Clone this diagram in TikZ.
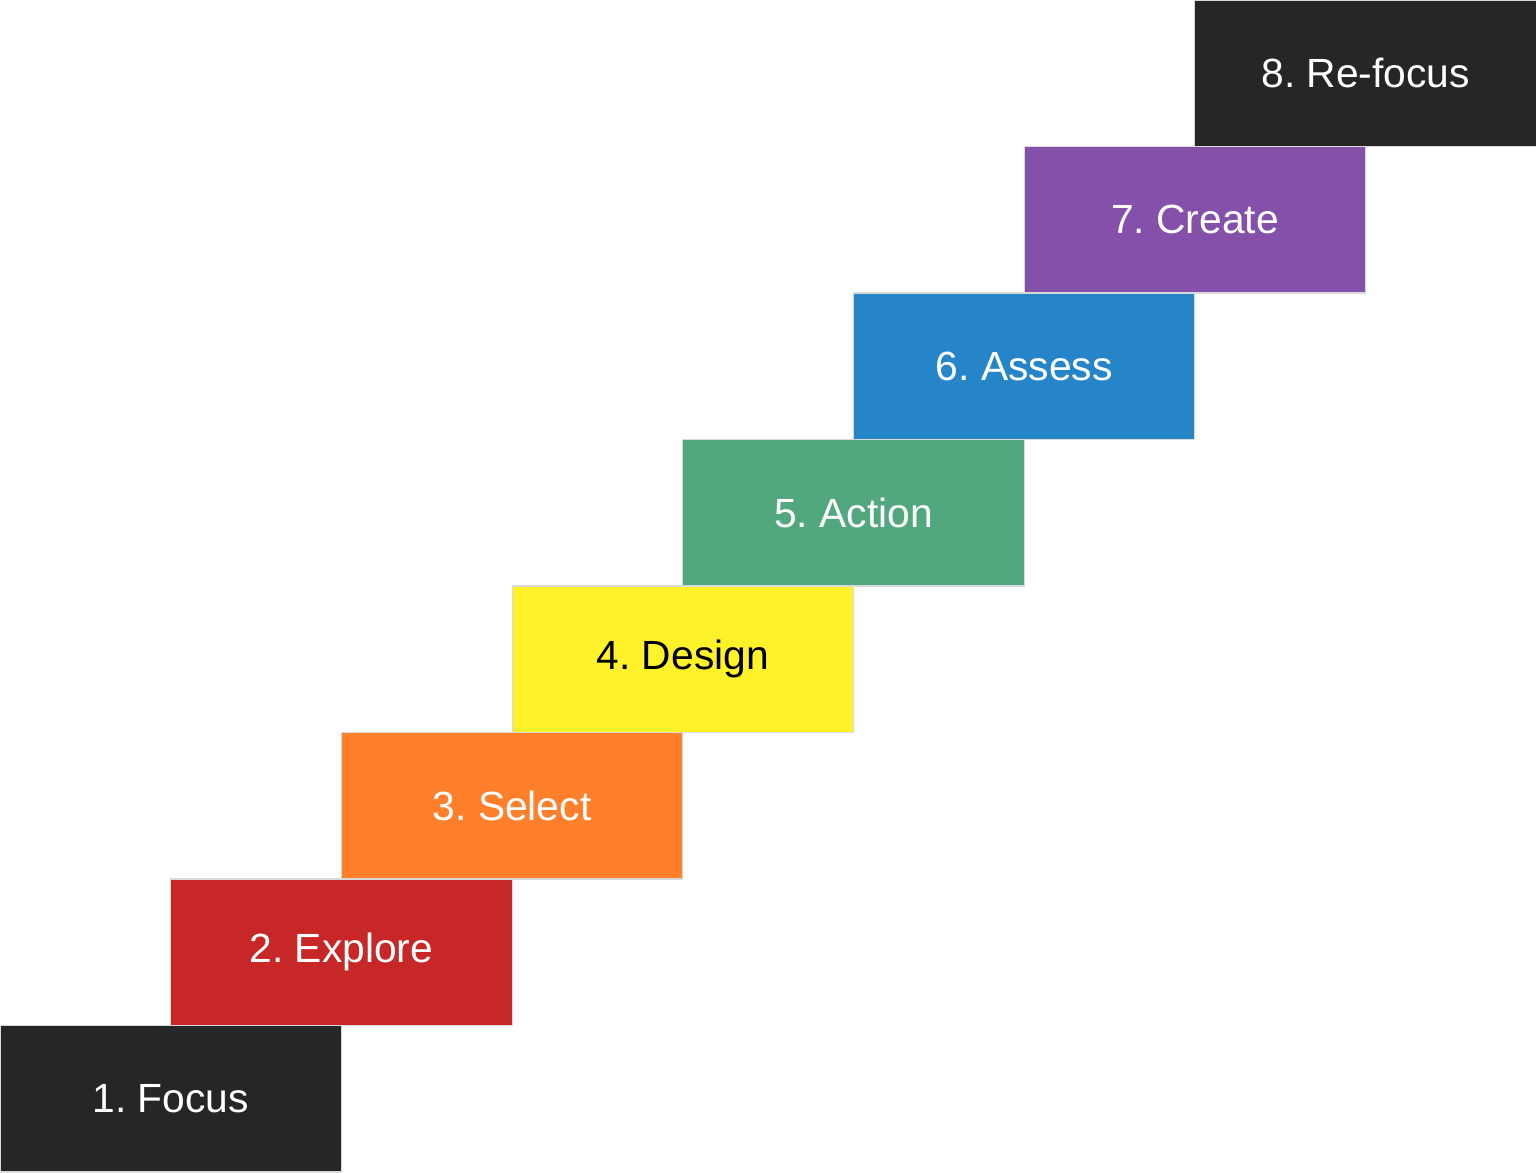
\documentclass[tikz,border=0pt]{standalone}
\usepackage{fontspec}
\setmainfont{Liberation Sans}
\frenchspacing
\definecolor{stepdark}{HTML}{262626}
\definecolor{stepred}{HTML}{C82727}
\definecolor{steporange}{HTML}{FF7F2A}
\definecolor{stepyellow}{HTML}{FFF12A}
\definecolor{stepgreen}{HTML}{52A87E}
\definecolor{stepblue}{HTML}{2585C8}
\definecolor{steppurple}{HTML}{8450AA}
\tikzset{
  stair/.style={draw=black!15,line width=0.3pt,minimum width=3.414cm,minimum height=1.465cm,
    inner sep=0pt,outer sep=0pt,text=white,font=\fontsize{11.6}{14}\selectfont}
}
\begin{document}
\begin{tikzpicture}
    \useasboundingbox (0,0) rectangle (15.36,11.72);
    \node[stair,fill=stepdark]   (focus)   at (1.707,0.7325)   {1. Focus};
    \node[stair,fill=stepred]    (explore) at (3.414,2.1975)   {2. Explore};
    \node[stair,fill=steporange] (select)  at (5.121,3.6625)   {3. Select};
    \node[stair,fill=stepyellow,text=black] (design) at (6.828,5.1275) {4. Design};
    \node[stair,fill=stepgreen]  (action)  at (8.535,6.5925)   {5. Action};
    \node[stair,fill=stepblue]   (assess)  at (10.242,8.0575)  {6. Assess};
    \node[stair,fill=steppurple] (create)  at (11.949,9.5225)  {7. Create};
    \node[stair,fill=stepdark]   (refocus) at (13.656,10.9875) {8. Re-focus};
\end{tikzpicture}
\end{document}
